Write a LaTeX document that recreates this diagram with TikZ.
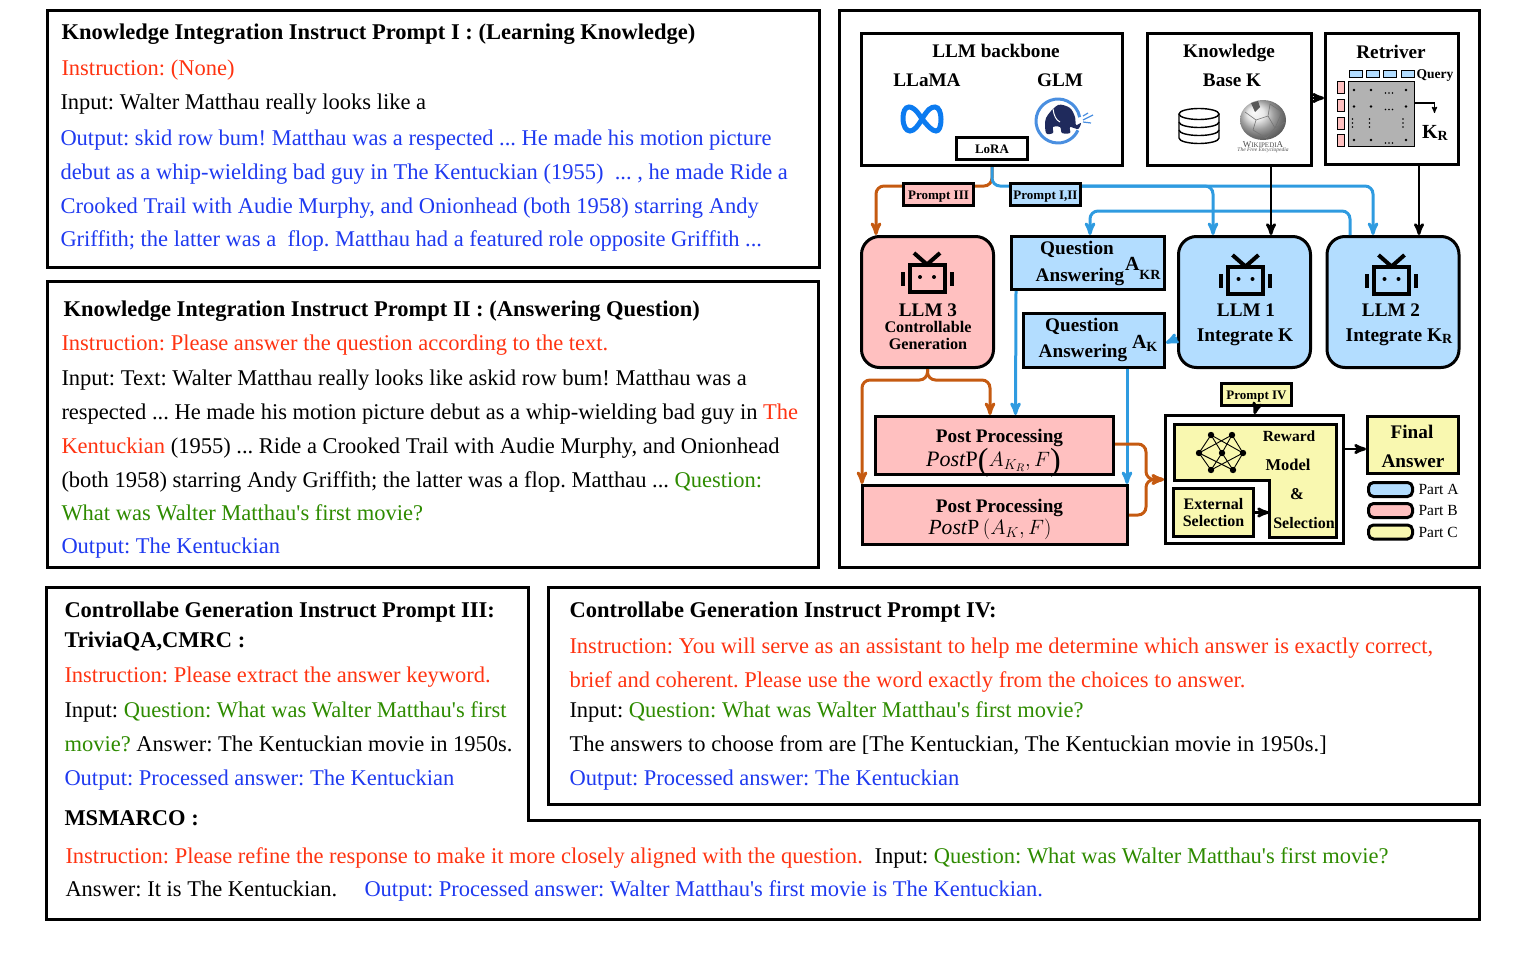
\documentclass[tikz,border=0pt]{standalone}
\usepackage{fontspec}
\setmainfont{Liberation Serif}
\usetikzlibrary{%
  arrows,%
  positioning,%
  shapes
}
\definecolor{txtred}{HTML}{FF3311}
\definecolor{txtblue}{HTML}{1F3AF0}
\definecolor{txtgreen}{HTML}{2E8B00}
\definecolor{partA}{HTML}{B3DDFF}
\definecolor{partB}{HTML}{FFC0C0}
\definecolor{partC}{HTML}{F9F8B0}
\definecolor{lineblue}{HTML}{2F9BE0}
\definecolor{lineorange}{HTML}{C55A11}
\definecolor{metablue}{HTML}{0C7BF0}
\definecolor{glmnavy}{HTML}{1F2A5C}
\definecolor{glmblue}{HTML}{4A8FE0}
\newcommand{\fsz}[1]{\fontsize{#1}{#1}\selectfont}
\newcommand{\subK}[1]{\raisebox{-9pt}{\fsz{14}#1}}
\newcommand{\qs}{\textquotesingle}
\newcommand{\tallparen}[1]{\raisebox{-4pt}{\fsz{32}#1}}
\tikzset{
  tvbot/.pic={
    \draw[line width=4] (-17.5,-12.5) rectangle (17.5,15);
    \draw[line width=4] (-13,-24) -- (0,-12.5) -- (13,-24);
    \draw[line width=4] (-24.5,-5) -- (-24.5,9);
    \draw[line width=4] (24.5,-5) -- (24.5,9);
    \fill (-7,0) circle (2);
    \fill (7,0) circle (2);
  }
}

\begin{document}
\frenchspacing
\begin{tikzpicture}
  [
  x=1pt, y=-1pt,
  line width=3pt,
  >=stealth',
  panel/.style={rectangle, draw=black, line width=3, inner sep=0pt},
  bodytext/.style={anchor=base west, inner sep=0pt, font=\fsz{22.5}},
  headtext/.style={anchor=base west, inner sep=0pt, font=\fsz{22.5}\bfseries},
  bluebox/.style={panel, fill=partA},
  pinkbox/.style={panel, fill=partB},
  yellowbox/.style={panel, fill=partC},
  llmbox/.style={panel, rounded corners=18, minimum width=132, minimum height=131},
  tagbox/.style={panel, minimum width=70, minimum height=22, text height=10.5, text depth=1.5, font=\fsz{13}\bfseries},
  lbltext/.style={anchor=base, inner sep=0pt, font=\fsz{19.2}\bfseries},
  smalltext/.style={anchor=base, inner sep=0pt, font=\fsz{16.2}\bfseries},
  legendbox/.style={panel, rounded corners=5, minimum width=44, minimum height=14},
  blueline/.style={draw=lineblue, line width=3, rounded corners=8},
  orangeline/.style={draw=lineorange, line width=3, rounded corners=8},
  blackline/.style={draw=black, line width=2.8},
  ]
  \useasboundingbox (0,0) rectangle (1524,966);

  % prompt I
  \node[panel, minimum width=772, minimum height=257] (promptone) at (433,139) {};
  \node[headtext] (ptitle1) at (60,40) {Knowledge Integration Instruct Prompt I : (Learning Knowledge)};
  \node[bodytext, txtred] (pinst1) at (60,75) {Instruction: (None)};
  \node[bodytext] (pin1) at (59,110) {Input: Walter Matthau really looks like a};
  \node[bodytext, txtblue] (pout1a) at (59,145) {Output: skid row bum! Matthau was a respected ... He made his motion picture};
  \node[bodytext, txtblue] (pout1b) at (59,179) {debut as a whip-wielding bad guy in The Kentuckian (1955) \ ... , he made Ride a};
  \node[bodytext, txtblue] (pout1c) at (59,213) {Crooked Trail with Audie Murphy, and Onionhead (both 1958) starring Andy};
  \node[bodytext, txtblue] (pout1d) at (59,246) {Griffith; the latter was a \ flop. Matthau had a featured role opposite Griffith ...};

  % prompt II
  \node[panel, minimum width=771, minimum height=286] (prompttwo) at (433,424.5) {};
  \node[headtext] (ptitle2) at (62,316) {Knowledge Integration Instruct Prompt II : (Answering Question)};
  \node[bodytext, txtred] (pinst2) at (60,350) {Instruction: Please answer the question according to the text.};
  \node[bodytext] (pin2a) at (60,385) {Input: Text: Walter Matthau really looks like askid row bum! Matthau was a};
  \node[bodytext] (pin2b) at (60,419) {respected ... He made his motion picture debut as a whip-wielding bad guy in \textcolor{txtred}{The}};
  \node[bodytext] (pin2c) at (60,453) {\textcolor{txtred}{Kentuckian} (1955) ... Ride a Crooked Trail with Audie Murphy, and Onionhead};
  \node[bodytext] (pin2d) at (60,487) {(both 1958) starring Andy Griffith; the latter was a flop. Matthau ... \textcolor{txtgreen}{Question:}};
  \node[bodytext, txtgreen] (pin2e) at (60,520) {What was Walter Matthau\qs s first movie?};
  \node[bodytext, txtblue] (pout2) at (60,553) {Output: The Kentuckian};

  % prompt III and MSMARCO
  \draw[line width=3] (46.5,587) -- (528,587) -- (528,820) -- (1479,820) -- (1479,919) -- (46.5,919) -- cycle;
  \node[headtext] (ptitle3a) at (63,617) {Controllabe Generation Instruct Prompt III:};
  \node[headtext] (ptitle3b) at (63,647) {TriviaQA,CMRC :};
  \node[bodytext, txtred] (pinst3) at (63,682) {Instruction: Please extract the answer keyword.};
  \node[bodytext] (pin3a) at (63,717) {Input: \textcolor{txtgreen}{Question: What was Walter Matthau\qs s first}};
  \node[bodytext] (pin3b) at (63,751) {\textcolor{txtgreen}{movie?} Answer: The Kentuckian movie in 1950s.};
  \node[bodytext, txtblue] (pout3) at (63,785) {Output: Processed answer: The Kentuckian};
  \node[headtext] (ptitlem) at (63,825) {MSMARCO :};
  \node[bodytext, txtred] (pinstm) at (64,863) {Instruction: Please refine the response to make it more closely aligned with the question.};
  \node[bodytext] (pinm) at (873,863) {Input: \textcolor{txtgreen}{Question: What was Walter Matthau\qs s first movie?}};
  \node[bodytext] (pansm) at (64,896) {Answer: It is The Kentuckian.};
  \node[bodytext, txtblue] (poutm) at (363,896) {Output: Processed answer: Walter Matthau\qs s first movie is The Kentuckian.};

  % prompt IV
  \node[panel, minimum width=931, minimum height=217] (promptfour) at (1014,696) {};
  \node[headtext] (ptitle4) at (568,617) {Controllabe Generation Instruct Prompt IV:};
  \node[bodytext, txtred] (pinst4a) at (568,653) {Instruction: You will serve as an assistant to help me determine which answer is exactly correct,};
  \node[bodytext, txtred] (pinst4b) at (568,687) {brief and coherent. Please use the word exactly from the choices to answer.};
  \node[bodytext] (pin4a) at (568,717) {Input: \textcolor{txtgreen}{Question: What was Walter Matthau\qs s first movie?}};
  \node[bodytext] (pin4b) at (568,751) {The answers to choose from are [The Kentuckian, The Kentuckian movie in 1950s.]};
  \node[bodytext, txtblue] (pout4) at (568,785) {Output: Processed answer: The Kentuckian};

  % right panel
  \node[panel, minimum width=640, minimum height=557] (pipeline) at (1159.5,289) {};

  % top row
  \node[panel, minimum width=261, minimum height=132] (backbone) at (992,99.5) {};
  \node[lbltext] (backbonename) at (996,58) {LLM backbone};
  \node[lbltext] (llama) at (927,86) {LLaMA};
  \node[lbltext] (glm) at (1060,86) {GLM};
  \node[panel, fill=white, minimum width=71, minimum height=22, text height=10.5, text depth=1.5, font=\fsz{13}\bfseries] (lora) at (992,148.5) {LoRA};
  \node[panel, minimum width=164, minimum height=132] (kb) at (1229.5,99.5) {};
  \node[lbltext] (kbname1) at (1229,58) {Knowledge};
  \node[lbltext] (kbname2) at (1232,86) {Base K};
  \node[panel, minimum width=133, minimum height=131] (retriever) at (1392,99) {};
  \node[lbltext] (retrievername) at (1391,59) {Retriver};

  % meta mark
  \draw[draw=metablue, line width=5] (922,119) .. controls (916,109) and (912,107) .. (909,107) .. controls (905,107) and (903,112) .. (903,118) .. controls (903,126) and (906,131) .. (910,131) .. controls (914,131) and (918,126) .. (922,119) .. controls (928,109) and (931,107) .. (935,107) .. controls (939,107) and (941,113) .. (941,119) .. controls (941,127) and (939,131) .. (936,131) .. controls (932,131) and (928,126) .. (922,119) -- cycle;

  % glm mark
  \draw[draw=glmblue, line width=3] (1058,121) ++(25:22) arc (25:350:22);
  \fill[glmnavy] plot[smooth cycle] coordinates {(1046,118) (1058,105) (1070,108) (1075,117) (1076,125) (1081,123) (1078,129) (1070,127) (1070,133) (1062,133) (1060,127) (1053,127) (1053,133) (1046,133)};
  \draw[white, line width=1] (1053,109) .. controls (1054,116) and (1056,120) .. (1060,122);
  \draw[glmblue, line width=1.2] (1083,120) -- (1093,115) (1083,116) -- (1088,113) (1083,122) -- (1091,123);

  % database
  \draw[line width=1.4, fill=white] (1179,114) -- (1179,138) arc (180:0:20 and 5.5) -- (1219,114);
  \draw[line width=1.4] (1199,114) ellipse (20 and 5.5);
  \draw[line width=1.4] (1179,122) arc (180:0:20 and 5.5);
  \draw[line width=1.4] (1179,130) arc (180:0:20 and 5.5);

  % wikipedia globe
  \shade[ball color=black!12] (1263,120) ellipse (23 and 20);
  \draw[black!55, line width=0.6] (1245,112) -- (1256,120) -- (1253,130) (1256,120) -- (1268,116) -- (1270,104) (1268,116) -- (1275,128) -- (1266,138) (1275,128) -- (1285,122) (1253,130) -- (1266,138) (1270,104) -- (1282,112) -- (1275,128);
  \fill[black!65] (1251,103) -- (1258,101) -- (1260,107) -- (1255,112) -- cycle;
  \node[anchor=base, inner sep=0pt, black!70, font=\fsz{9}] (wikiname) at (1263,147) {W{\fsz{7}IKIPEDI}A};
  \node[anchor=base, inner sep=0pt, black!70, font=\fsz{5.5}\itshape] (wikisub) at (1263,151.5) {The Free Encyclopedia};

  % retriever matrix
  \foreach \qx in {1349,1366,1383,1401}
    \draw[line width=1, fill=partA] (\qx,71) rectangle +(13,7);
  \foreach \ky in {82,99,117,134}
    \draw[line width=1, fill=partB] (1337,\ky) rectangle +(7,12);
  \node[inner sep=0pt, anchor=base west, font=\fsz{13.5}\bfseries] (queryname) at (1415,78) {Query};
  \node[panel, line width=1, fill=black!30, minimum width=66, minimum height=64] (matrix) at (1381,114) {};
  \foreach \my in {90,106.5,140} {
    \foreach \mx in {1354,1371,1406}
      \fill (\mx,\my) circle (1.4);
    \foreach \dx in {-3.5,0,3.5}
      \fill (1389+\dx,\my+3) circle (0.8);
  }
  \foreach \mx in {1352.5,1369.5,1403} {
    \foreach \dy in {-4,0,4}
      \fill (\mx,123+\dy) circle (0.8);
  }
  \node[inner sep=0pt, anchor=base west, font=\fsz{20}\bfseries] (krname) at (1420.5,138) {K\raisebox{-2.5pt}{\fsz{14}R}};
  \draw[->, line width=1.2] (matrix.east) ++(0,-11) -| ++(20,10);

  % llm row
  \node[llmbox, fill=partB] (llmthree) at (927.5,302) {};
  \pic at (927,277) {tvbot};
  \node[lbltext] (llmthreename) at (928,316) {LLM 3};
  \node[smalltext] (llmthreea) at (928,332) {Controllable};
  \node[smalltext] (llmthreeb) at (928,349) {Generation};
  \node[llmbox, fill=partA] (llmone) at (1244.5,302) {};
  \pic at (1245.5,279) {tvbot};
  \node[lbltext] (llmonename) at (1246,316) {LLM 1};
  \node[anchor=base, inner sep=0pt, font=\fsz{19.4}\bfseries] (llmonesub) at (1245,341) {Integrate K};
  \node[llmbox, fill=partA] (llmtwo) at (1393,302) {};
  \pic at (1391.5,279) {tvbot};
  \node[lbltext] (llmtwoname) at (1391,316) {LLM 2};
  \node[anchor=base, inner sep=0pt, font=\fsz{19.4}\bfseries] (llmtwosub) at (1399,341) {Integrate K\raisebox{-2.5pt}{\fsz{14}R}};

  \node[bluebox, minimum width=153, minimum height=53] (qakr) at (1088,263) {};
  \node[lbltext] (qakra) at (1077,254) {Question};
  \node[lbltext] (qakrb) at (1080,281) {Answering};
  \node[inner sep=0pt, anchor=base west, font=\fsz{20}\bfseries] (qakrc) at (1123.5,270) {A\subK{KR}};
  \node[bluebox, minimum width=141, minimum height=54] (qak) at (1094,340.5) {};
  \node[lbltext] (qaka) at (1082,331) {Question};
  \node[lbltext] (qakb) at (1083,357) {Answering};
  \node[inner sep=0pt, anchor=base west, font=\fsz{20}\bfseries] (qakc) at (1130.5,348) {A\raisebox{-3.5pt}{\fsz{14}K}};

  % post processing
  \node[pinkbox, minimum width=238, minimum height=58] (postone) at (994.5,445.5) {};
  \node[anchor=base, inner sep=0pt, font=\fsz{19.2}\bfseries] (postonea) at (999.5,442) {Post Processing};
  \node[anchor=base, inner sep=0pt, font=\fsz{22}] (postoneb) at (993.5,466) {\textit{Post}P\tallparen{(}$A_{K_R},F$\tallparen{)}};
  \node[pinkbox, minimum width=265, minimum height=59] (posttwo) at (995,515) {};
  \node[anchor=base, inner sep=0pt, font=\fsz{19.2}\bfseries] (posttwoa) at (999.5,512) {Post Processing};
  \node[anchor=base, inner sep=0pt, font=\fsz{21.6}] (posttwob) at (990,534) {\textit{Post}P\,$(A_{K},F)$};

  % part c
  \node[panel, minimum width=178, minimum height=128] (selectbox) at (1254.5,479.5) {};
  \draw[fill=partC, line width=3] (1174,424) -- (1336,424) -- (1336,537) -- (1269,537) -- (1269,480) -- (1174,480) -- cycle;
  \node[anchor=base, inner sep=0pt, font=\fsz{15.5}\bfseries] (rewardname) at (1289,441) {Reward};
  \node[anchor=base, inner sep=0pt, font=\fsz{16.5}\bfseries] (modelname) at (1288,470) {Model};
  \node[anchor=base, inner sep=0pt, font=\fsz{16.5}\bfseries] (andname) at (1297,499) {\&};
  \node[anchor=base, inner sep=0pt, font=\fsz{16}\bfseries] (selectname) at (1304,528) {Selection};
  \node[yellowbox, minimum width=80, minimum height=48, align=center, font=\fsz{16}\bfseries] (external) at (1213.5,512.5) {External\\[1pt]Selection};
  \node[tagbox, fill=partC] (promptiv) at (1256.5,394.5) {Prompt IV};
  \node[yellowbox, minimum width=91, minimum height=57] (final) at (1413,445) {};
  \node[lbltext] (finala) at (1412,438) {Final};
  \node[lbltext] (finalb) at (1413,467) {Answer};

  % neural net
  \foreach \tx/\ty in {1211/435,1232/435,1211/470,1233/470}
    \foreach \mx in {1199,1222,1243}
      \draw[line width=0.9] (\tx,\ty) -- (\mx,453);
  \foreach \nx/\ny in {1211/435,1232/435,1199/453,1222/453,1243/453,1211/470,1233/470}
    \fill (\nx,\ny) circle (3.2);

  % legend
  \node[legendbox, fill=partA] (legenda) at (1390.5,489.5) {};
  \node[legendbox, fill=partB] (legendb) at (1390.5,510.5) {};
  \node[legendbox, fill=partC] (legendc) at (1390.5,532) {};
  \node[inner sep=0pt, anchor=west, font=\fsz{15.5}, right=3pt of legenda] (legendatext) {Part A};
  \node[inner sep=0pt, anchor=west, font=\fsz{15.5}, right=3pt of legendb] (legendbtext) {Part B};
  \node[inner sep=0pt, anchor=west, font=\fsz{15.5}, right=3pt of legendc] (legendctext) {Part C};

  % connectors
  \draw[->, orangeline] (backbone.south) |- ++(-30,19) -| ([xshift=-51.5]llmthree.north);
  \draw[->, blueline] (backbone.south) |- ++(30,19) -| ([xshift=-31.5]llmone.north);
  \draw[->, blueline] (backbone.south) ++(0,19) ++(30,0) -| ([xshift=-20]llmtwo.north);
  \draw[->, blueline] ([xshift=-43]llmtwo.north) |- ++(-100,-24) -| ([xshift=2]qakr.north);
  \node[tagbox, fill=partB] (promptthree) at (938.5,194.5) {Prompt III};
  \node[tagbox, fill=partA] (promptonetwo) at (1045.5,194.5) {Prompt I,II};
  \draw[->, blackline] ([yshift=1.5]kb.east) -- ([yshift=1]retriever.west);
  \draw[->, blackline] ([xshift=41.5]kb.south) -- ([xshift=26.5]llmone.north);
  \draw[->, blackline] ([xshift=27]retriever.south) -- ([xshift=26]llmtwo.north);
  \draw[->, blueline] (llmone.west) ++(0,36) -- ([yshift=-2.5]qak.east);
  \draw[->, blueline] ([xshift=-72]qakr.south) -- ([xshift=21]postone.north);
  \draw[->, blueline] ([xshift=33]qak.south) -- ([xshift=132]posttwo.north);
  \draw[->, orangeline] (llmthree.south) |- ++(30,11) -| ([xshift=-4.5]postone.north);
  \draw[->, orangeline] (llmthree.south) |- ++(-30,11) -| ([xshift=-133]posttwo.north);
  \draw[->, orangeline] ([yshift=1.5]postone.east) -- ++(31,0) |- (selectbox.west);
  \draw[->, orangeline] (posttwo.east) -- ++(17,0) |- (selectbox.west);
  \draw[->, blackline] (promptiv.south) -- (selectbox.north);
  \draw[->, blackline] ([yshift=-4]final.west -| selectbox.east) -- ([yshift=-4]final.west);
  \draw[->, blackline] (external.east) -- ++(14,0);
\end{tikzpicture}
\end{document}
